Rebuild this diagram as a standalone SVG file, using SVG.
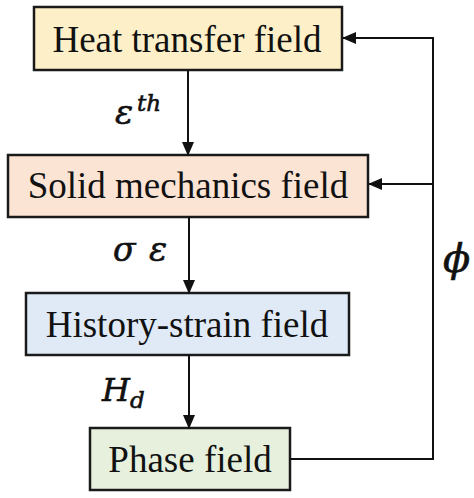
<svg xmlns="http://www.w3.org/2000/svg" width="474" height="498" viewBox="0 0 474 498">
<defs>
<style>
.box{stroke:#1a1a1a;stroke-width:2.5}
.lbl{font-family:"Liberation Serif","Times New Roman",serif;font-size:37px;fill:#111;text-anchor:middle}
.m{font-family:"DejaVu Serif","Liberation Serif",serif;font-style:italic;fill:#111;stroke:#111;stroke-width:0.6}
.c{fill:none;stroke:#111;stroke-width:2}
</style>
<marker id="ah" markerWidth="14" markerHeight="12" refX="13" refY="6" orient="auto" markerUnits="userSpaceOnUse">
<path d="M0,0 L14,6 L0,12 Z" fill="#111"/>
</marker>
</defs>
<rect width="474" height="498" fill="#fff"/>
<g id="heat">
<rect class="box" x="34" y="7" width="308" height="63" fill="#fdf0c9"/>
<text class="lbl" x="187" y="52">Heat transfer field</text>
</g>
<g id="solid">
<rect class="box" x="8" y="155" width="360" height="62" fill="#fbe4d4"/>
<text class="lbl" x="188" y="198">Solid mechanics field</text>
</g>
<g id="history">
<rect class="box" x="26" y="293" width="323" height="62" fill="#dfeaf6"/>
<text class="lbl" x="187" y="337">History-strain field</text>
</g>
<g id="phase">
<rect class="box" x="90" y="428" width="200" height="62" fill="#e6f0dc"/>
<text class="lbl" x="190" y="472">Phase field</text>
</g>
<g id="connectors">
<line class="c" x1="188" y1="70" x2="188" y2="155" marker-end="url(#ah)"/>
<line class="c" x1="189" y1="217" x2="189" y2="293" marker-end="url(#ah)"/>
<line class="c" x1="189" y1="355" x2="189" y2="428" marker-end="url(#ah)"/>
<polyline class="c" points="290,459 433,459 433,38 343,38" marker-end="url(#ah)"/>
<line class="c" x1="433" y1="184" x2="369" y2="184" marker-end="url(#ah)"/>
</g>
<g id="labels">
<text class="m" x="115" y="124" font-size="34">ε</text>
<text class="m" x="137" y="111" font-size="23">th</text>
<text class="m" x="113" y="261" font-size="33">σ</text>
<text class="m" x="149" y="261" font-size="34">ε</text>
<text class="m" x="443" y="272" font-size="40">ϕ</text>
<text class="m" x="102" y="401" font-size="32">H</text>
<text class="m" x="130" y="408" font-size="23">d</text>
</g>
</svg>
